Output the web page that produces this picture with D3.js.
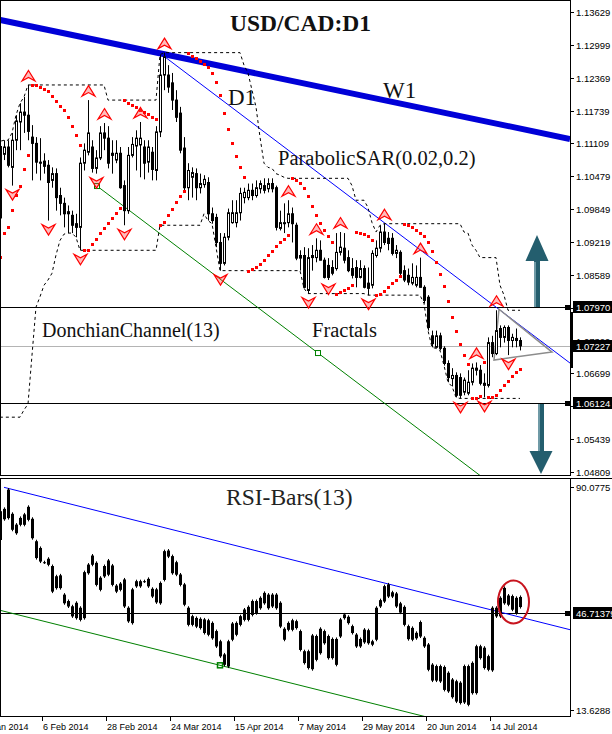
<!DOCTYPE html>
<html><head><meta charset="utf-8">
<script src="https://cdn.jsdelivr.net/npm/d3@7"></script>
<style>html,body{margin:0;padding:0;background:#fff;}svg{display:block;}</style>
</head><body>
<svg id="c" width="612" height="734"></svg>
<script>
// ---------- DATA ----------
// bars before the visible window (indices -20..-1), only partly visible, used by the indicators
const preOpen  = [1.0640,1.0612,1.0630,1.0655,1.0620,1.0605,1.0618,1.0640,1.0712,1.0800,1.0835,1.0860,1.0850,1.0885,1.0920,1.0945,1.0950,1.0965,1.0960,1.0968];
const preHigh  = [1.0668,1.0650,1.0668,1.0672,1.0640,1.0628,1.0650,1.0720,1.0790,1.0850,1.0880,1.0890,1.0900,1.0935,1.0960,1.0975,1.0990,1.0995,1.0985,1.1115];
const preLow   = [1.0600,1.0595,1.0610,1.0612,1.0592,1.0586,1.0600,1.0611,1.0705,1.0797,1.0817,1.0839,1.0849,1.0862,1.0897,1.0925,1.0937,1.0939,1.0942,1.0950];
const preClose = [1.0612,1.0630,1.0655,1.0620,1.0605,1.0618,1.0640,1.0712,1.0785,1.0835,1.0860,1.0850,1.0885,1.0920,1.0945,1.0950,1.0965,1.0960,1.0968,1.1105];

// visible daily bars 0..129 (23 Jan 2014 .. 23 Jul 2014)
const open = [1.1090,1.1104,1.1065,1.1117,1.1152,1.1171,1.1165,1.1123,1.1111,1.1075,
1.1077,1.1069,1.1040,1.1053,1.1011,1.0996,1.0980,1.0973,1.0957,1.0950,
1.1073,1.1094,1.1104,1.1063,1.1083,1.1131,1.1121,1.1092,1.1079,1.1092,
1.1030,1.0982,1.1088,1.1106,1.1108,1.1104,1.1075,1.1094,1.1059,1.1133,
1.1242,1.1242,1.1227,1.1194,1.1169,1.1102,1.1026,1.1046,1.1053,1.1026,
1.1032,1.1036,1.0976,1.0969,1.0921,1.0881,1.0931,1.0959,1.0959,1.0978,
1.1007,1.1007,1.1021,1.1011,1.1024,1.1030,1.1024,1.1034,1.1026,1.0948,
1.0957,1.0959,1.0976,1.0954,1.0891,1.0896,1.0829,1.0892,1.0892,1.0906,
1.0887,1.0877,1.0873,1.0871,1.0902,1.0910,1.0892,1.0871,1.0873,1.0854,
1.0871,1.0843,1.0839,1.0896,1.0910,1.0941,1.0929,1.0929,1.0900,1.0902,
1.0867,1.0858,1.0843,1.0839,1.0854,1.0835,1.0816,1.0742,1.0720,1.0742,
1.0718,1.0689,1.0660,1.0666,1.0662,1.0634,1.0632,1.0653,1.0676,1.0676,
1.0647,1.0647,1.0729,1.0708,1.0756,1.0739,1.0758,1.0733,1.0737,1.0733];
const high = [1.1117,1.1117,1.1131,1.1165,1.1188,1.1200,1.1223,1.1146,1.1123,1.1121,
1.1092,1.1079,1.1065,1.1063,1.1026,1.1007,1.0992,1.0982,1.0976,1.1084,
1.1111,1.1194,1.1117,1.1098,1.1144,1.1150,1.1144,1.1117,1.1117,1.1104,
1.1040,1.1104,1.1123,1.1136,1.1152,1.1117,1.1117,1.1104,1.1144,1.1281,
1.1285,1.1261,1.1246,1.1213,1.1181,1.1123,1.1073,1.1065,1.1063,1.1053,
1.1050,1.1046,1.0988,1.0976,1.0939,1.0939,1.0986,1.1002,1.1002,1.1026,
1.1026,1.1034,1.1034,1.1040,1.1040,1.1044,1.1044,1.1044,1.1030,1.0982,
1.0996,1.1002,1.0988,1.0959,1.0906,1.0912,1.0910,1.0916,1.0929,1.0925,
1.0892,1.0891,1.0887,1.0939,1.0941,1.0939,1.0906,1.0891,1.0887,1.0887,
1.0877,1.0873,1.0906,1.0925,1.0954,1.0957,1.0941,1.0939,1.0916,1.0906,
1.0877,1.0871,1.0881,1.0877,1.0892,1.0839,1.0820,1.0752,1.0752,1.0748,
1.0722,1.0695,1.0680,1.0672,1.0670,1.0662,1.0676,1.0689,1.0691,1.0686,
1.0670,1.0739,1.0742,1.0791,1.0762,1.0762,1.0762,1.0746,1.0756,1.0739];
const low = [1.1079,1.1065,1.1030,1.1098,1.1098,1.1131,1.1117,1.1040,1.1053,1.1040,
1.1053,1.0963,1.1026,1.0982,1.0973,1.0950,1.0939,1.0939,1.0931,1.0906,
1.1059,1.1088,1.1055,1.1053,1.1079,1.1098,1.1063,1.1053,1.1073,1.1024,
1.0954,1.0976,1.1084,1.1059,1.1046,1.1042,1.1055,1.1040,1.1040,1.1123,
1.1213,1.1208,1.1175,1.1152,1.1092,1.1021,1.1002,1.1007,1.1002,1.1015,
1.1026,1.0963,1.0957,1.0912,1.0867,1.0877,1.0925,1.0957,1.0950,1.0963,
1.0996,1.1002,1.1002,1.1007,1.1015,1.1015,1.1017,1.1017,1.0944,1.0944,
1.0939,1.0950,1.0921,1.0887,1.0867,1.0833,1.0823,1.0867,1.0883,1.0887,
1.0852,1.0849,1.0858,1.0867,1.0896,1.0881,1.0864,1.0852,1.0835,1.0852,
1.0833,1.0820,1.0833,1.0892,1.0902,1.0916,1.0906,1.0896,1.0891,1.0858,
1.0845,1.0839,1.0839,1.0835,1.0835,1.0804,1.0752,1.0720,1.0718,1.0714,
1.0685,1.0653,1.0645,1.0624,1.0622,1.0628,1.0628,1.0647,1.0666,1.0647,
1.0624,1.0643,1.0701,1.0705,1.0720,1.0729,1.0705,1.0720,1.0720,1.0714];
const close = [1.1104,1.1069,1.1117,1.1154,1.1171,1.1165,1.1134,1.1111,1.1075,1.1073,
1.1067,1.1036,1.1053,1.1007,1.0996,1.0976,1.0976,1.0954,1.0950,1.1073,
1.1098,1.1131,1.1063,1.1083,1.1131,1.1121,1.1073,1.1088,1.1092,1.1026,
1.0982,1.1088,1.1109,1.1121,1.1121,1.1073,1.1104,1.1061,1.1133,1.1242,
1.1277,1.1219,1.1194,1.1161,1.1098,1.1026,1.1059,1.1055,1.1026,1.1034,
1.1042,1.0976,1.0963,1.0921,1.0881,1.0931,1.0978,1.0978,1.0978,1.1015,
1.1017,1.1021,1.1011,1.1026,1.1034,1.1021,1.1034,1.1024,1.0950,1.0959,
1.0959,1.0976,1.0957,1.0891,1.0896,1.0835,1.0892,1.0896,1.0906,1.0887,
1.0854,1.0854,1.0862,1.0902,1.0912,1.0887,1.0867,1.0858,1.0854,1.0871,
1.0835,1.0833,1.0900,1.0910,1.0941,1.0921,1.0919,1.0900,1.0906,1.0862,
1.0849,1.0845,1.0854,1.0854,1.0835,1.0810,1.0758,1.0727,1.0742,1.0718,
1.0689,1.0662,1.0666,1.0628,1.0628,1.0657,1.0653,1.0680,1.0680,1.0651,
1.0651,1.0729,1.0708,1.0752,1.0739,1.0758,1.0733,1.0739,1.0733,1.07227];

// RSI-Bars(13): top and bottom of each bar, indices -1..129
const rsiHigh = [82.3,83.1,89.7,81.4,77.7,80.0,81.2,83.8,79.7,72.0,69.7,
64.8,66.0,63.5,60.0,60.3,53.7,51.5,49.7,50.9,49.2,
61.4,64.0,67.1,64.6,59.5,63.5,65.4,63.7,56.8,57.5,
58.9,49.2,55.5,58.3,58.3,58.3,59.1,55.7,55.5,57.7,
68.6,68.8,66.9,64.8,60.6,57.2,49.2,46.3,45.7,45.4,
45.2,44.9,44.0,41.2,37.7,33.2,37.7,43.8,44.0,46.3,
48.6,49.5,51.5,51.5,52.6,54.3,53.7,53.7,53.7,50.9,
42.0,44.0,44.9,44.6,41.2,34.3,34.3,39.7,39.5,42.0,
41.2,39.5,38.5,38.5,45.2,46.9,46.1,42.9,40.0,38.5,
41.7,41.5,37.7,49.2,51.8,56.6,57.2,54.5,54.1,50.7,
49.5,42.9,42.3,40.6,44.3,38.9,36.6,29.7,29.2,29.2,
28.9,26.9,24.6,24.0,23.5,29.2,29.2,30.3,36.0,36.0,
35.5,32.6,49.2,49.2,52.6,56.0,53.4,53.2,52.6,52.9];
const rsiLow = [71.4,78.5,78.9,74.9,73.7,76.6,76.6,78.3,72.0,65.2,64.0,
63.7,62.9,53.7,54.9,54.9,49.7,48.6,45.2,44.6,44.0,
44.6,60.0,62.9,56.0,54.3,58.9,59.5,56.0,53.7,54.3,
48.6,43.5,42.9,55.5,55.5,57.2,55.5,52.0,50.0,49.7,
57.7,65.7,60.0,59.5,56.0,49.2,42.3,42.3,41.7,41.2,
39.5,38.9,37.7,34.9,31.5,28.6,28.0,37.2,38.9,42.3,
44.0,44.0,45.7,46.3,48.0,49.7,48.0,48.6,48.0,41.7,
37.2,40.6,40.6,41.2,33.7,29.2,27.5,27.1,30.3,32.6,
36.0,30.9,30.9,28.6,38.3,44.6,42.9,39.5,34.9,34.9,
36.3,36.0,35.5,37.2,48.6,50.3,52.0,52.0,48.6,46.5,
42.3,37.4,37.2,37.7,38.3,34.9,26.9,23.2,23.2,22.9,
20.0,19.5,17.5,16.0,15.5,15.7,14.9,18.9,18.9,30.9,
27.5,26.9,26.7,45.2,45.2,49.7,49.2,47.5,46.3,48.4];
const rsiFirstIndex = -1;

// axis ticks and labels
const priceTicks = [1.13629,1.12999,1.12369,1.11739,1.11109,1.10479,1.09849,1.09219,1.08589,1.07959,1.07329,1.06699,1.06069,1.05439,1.04809];
const priceLevels = [1.07970, 1.06124];
const currentPrice = 1.07227;
const rsiTicks = [90.0775, 13.6288];
const rsiLevel = 46.71379;
const dateTickIndex = [-6,10,26,42,58,74,90,106,122];
const dateTickLabels = ["15 Jan 2014","6 Feb 2014","28 Feb 2014","24 Mar 2014","15 Apr 2014","7 May 2014","29 May 2014","20 Jun 2014","14 Jul 2014"];

// trend lines: [barIndex, value] anchor pairs
const w1Line = [[-1, 1.13476],[141.5, 1.11194]];
const d1Upper = [[40.25, 1.12766],[141.5, 1.06898]];
const d1Lower = [[23.25, 1.10292],[78.5, 1.07090]];
const triangle = [[123.75, 1.0793],[122.5, 1.06956],[137, 1.07109]];
const rsiUpper = [[0, 89.97],[141.5, 41.16]];
const rsiLower = [[-1, 47.81],[54, 28.95]];
const donchianPeriod = 20;
const sarStep = 0.02, sarMax = 0.2;

// ---------- SCALES ----------
const svg = d3.select("#c");
const x = d3.scaleLinear().domain([0,129]).range([4,520]);
const y = d3.scaleLinear().domain([1.04809,1.13629]).range([472,12]);
const yr = d3.scaleLinear().domain([13.6288,90.0775]).range([710,487]);
const serif = "'Liberation Serif','Times New Roman',serif";
const sans = "'Liberation Sans',Arial,sans-serif";

const defs = svg.append("defs");
defs.append("clipPath").attr("id","cp").append("rect").attr("x",1).attr("y",1).attr("width",569).attr("height",474);
defs.append("clipPath").attr("id","cr").append("rect").attr("x",1).attr("y",479).attr("width",569).attr("height",237);

const O = preOpen.concat(open), H = preHigh.concat(high), L = preLow.concat(low), C = preClose.concat(close);
const off = preOpen.length;
const idx = d3.range(-off, open.length);

// ---------- PRICE PANEL ----------
const gp = svg.append("g").attr("clip-path","url(#cp)");
function extend(a, b, i0, i1, ys){ // line through anchors a,b evaluated at i0,i1
  const s = (b[1]-a[1])/(b[0]-a[0]);
  return [[x(i0), ys(a[1]+s*(i0-a[0]))],[x(i1), ys(a[1]+s*(i1-a[0]))]];
}
// W1 thick line
gp.append("path").attr("d", d3.line()(extend(w1Line[0],w1Line[1],-2,141.5,y)))
  .attr("stroke","#0000d8").attr("stroke-width",6).attr("fill","none");
// horizontal levels
priceLevels.forEach(v=>{
  gp.append("line").attr("x1",0).attr("x2",570).attr("y1",Math.round(y(v))+0.5).attr("y2",Math.round(y(v))+0.5).attr("stroke","#000");
});
gp.append("line").attr("x1",0).attr("x2",570).attr("y1",Math.round(y(currentPrice))+0.5).attr("y2",Math.round(y(currentPrice))+0.5).attr("stroke","#b4b4b4");
// D1 channel lines
gp.append("path").attr("d", d3.line()(extend(d1Upper[0],d1Upper[1],d1Upper[0][0],141.5,y)))
  .attr("stroke","#0000ff").attr("stroke-width",1).attr("fill","none");
gp.append("path").attr("d", d3.line()(extend(d1Lower[0],d1Lower[1],d1Lower[0][0],150,y)))
  .attr("stroke","#008000").attr("stroke-width",1).attr("fill","none");
[d1Lower[0], d1Lower[1]].forEach(p=>{
  gp.append("rect").attr("x",x(p[0])-2.5).attr("y",y(p[1])-2.5).attr("width",5).attr("height",5)
    .attr("fill","#fff").attr("stroke","#008000");
});
// Donchian channel
const upper = idx.map((i,k)=>d3.max(H.slice(Math.max(0,k-donchianPeriod+1),k+1)));
const lower = idx.map((i,k)=>d3.min(L.slice(Math.max(0,k-donchianPeriod+1),k+1)));
const dl = d3.line().x((d,k)=>x(idx[k])).y(d=>y(d));
gp.append("path").attr("d",dl(upper)).attr("stroke","#000").attr("stroke-dasharray","3,3").attr("fill","none");
gp.append("path").attr("d",dl(lower)).attr("stroke","#000").attr("stroke-dasharray","3,3").attr("fill","none");
// triangle
gp.append("path").attr("d", d3.line()(triangle.map(p=>[x(p[0]),y(p[1])]))+"Z")
  .attr("stroke","#8c8c8c").attr("stroke-width",1.5).attr("fill","none");
// candles
idx.forEach((i,k)=>{
  const cx = Math.round(x(i));
  gp.append("line").attr("x1",cx+0.5).attr("x2",cx+0.5).attr("y1",y(H[k])).attr("y2",y(L[k])).attr("stroke","#000");
  const top = y(Math.max(O[k],C[k])), bot = y(Math.min(O[k],C[k]));
  gp.append("rect").attr("x",cx-0.5).attr("y",top).attr("width",2).attr("height",Math.max(1,bot-top))
    .attr("fill", C[k]>=O[k] ? "#fff" : "#000").attr("stroke","#000");
});
// Parabolic SAR
function computeSAR(h,l){
  const out=[]; let up=true, af=sarStep, ep=h[0], sar=l[0]; out.push(sar);
  for(let i=1;i<h.length;i++){
    let s = sar + af*(ep-sar);
    if(up){
      s = Math.min(s, l[i-1], l[Math.max(0,i-2)]);
      if(l[i] < s){ up=false; s=ep; ep=l[i]; af=sarStep; }
      else if(h[i] > ep){ ep=h[i]; af=Math.min(af+sarStep,sarMax); }
    } else {
      s = Math.max(s, h[i-1], h[Math.max(0,i-2)]);
      if(h[i] > s){ up=true; s=ep; ep=h[i]; af=sarStep; }
      else if(l[i] < ep){ ep=l[i]; af=Math.min(af+sarStep,sarMax); }
    }
    sar=s; out.push(s);
  }
  return out;
}
const sar = computeSAR(H,L);
idx.forEach((i,k)=>{
  if(k<4) return;
  gp.append("rect").attr("x",Math.round(x(i))-1).attr("y",Math.round(y(sar[k]))-1).attr("width",3).attr("height",3).attr("fill","#ff0000");
});
// Fractals
const upShape = "M0,-5.5L6.5,5L0,1.5L-6.5,5Z";
const dnShape = "M0,5.5L6.5,-5L0,-1.5L-6.5,-5Z";
for(let k=2;k<H.length-2;k++){
  const i = idx[k], cx = x(i);
  if(H[k]>H[k-1] && H[k]>H[k-2] && H[k]>H[k+1] && H[k]>H[k+2]){
    gp.append("path").attr("d",upShape).attr("transform",`translate(${cx+0.5},${y(H[k])-9})`)
      .attr("fill","#ff4040").attr("fill-opacity",0.35).attr("stroke","#f00").attr("stroke-width",1.2);
  }
  if(L[k]<L[k-1] && L[k]<L[k-2] && L[k]<L[k+1] && L[k]<L[k+2]){
    gp.append("path").attr("d",dnShape).attr("transform",`translate(${cx+0.5},${y(L[k])+9})`)
      .attr("fill","#ff4040").attr("fill-opacity",0.35).attr("stroke","#f00").attr("stroke-width",1.2);
  }
}
// teal arrows
const teal = "#245e6e";
gp.append("path").attr("d","M537,235 L548.5,261 L540,261 L540,307 L534,307 L534,261 L525.5,261 Z").attr("fill",teal);
gp.append("path").attr("d","M541,474 L552.5,451 L544,451 L544,404 L538,404 L538,451 L529.5,451 Z").attr("fill",teal);
gp.append("rect").attr("x",534).attr("y",262).attr("width",2).attr("height",45).attr("fill","#6f9aa6");
gp.append("rect").attr("x",538).attr("y",404).attr("width",2).attr("height",47).attr("fill","#6f9aa6");
// level end squares
priceLevels.forEach(v=>{
  svg.append("rect").attr("x",565).attr("y",Math.round(y(v))-2).attr("width",5).attr("height",5).attr("fill","#000");
});
// labels
gp.append("text").attr("x",230).attr("y",31).attr("font-family",serif).attr("font-weight","bold").attr("font-size",23.5).attr("fill","#111").text("USD/CAD:D1");
gp.append("text").attr("x",228).attr("y",105).attr("font-family",serif).attr("font-size",23).attr("fill","#111").text("D1");
gp.append("text").attr("x",383).attr("y",98).attr("font-family",serif).attr("font-size",23).attr("fill","#111").text("W1");
gp.append("text").attr("x",278).attr("y",165).attr("font-family",serif).attr("font-size",20.5).attr("fill","#111").text("ParabolicSAR(0.02,0.2)");
gp.append("text").attr("x",42).attr("y",337).attr("font-family",serif).attr("font-size",20).attr("fill","#111").text("DonchianChannel(13)");
gp.append("text").attr("x",312).attr("y",337).attr("font-family",serif).attr("font-size",20.5).attr("fill","#111").text("Fractals");

// ---------- RSI PANEL ----------
const gr = svg.append("g").attr("clip-path","url(#cr)");
gr.append("line").attr("x1",0).attr("x2",570).attr("y1",Math.round(yr(rsiLevel))+0.5).attr("y2",Math.round(yr(rsiLevel))+0.5).attr("stroke","#000");
gr.append("path").attr("d", d3.line()(extend(rsiUpper[0],rsiUpper[1],rsiUpper[0][0],141.5,yr)))
  .attr("stroke","#0000ff").attr("fill","none");
gr.append("path").attr("d", d3.line()(extend(rsiLower[0],rsiLower[1],-1,150,yr)))
  .attr("stroke","#008000").attr("fill","none");
rsiHigh.forEach((hv,k)=>{
  const j = k + rsiFirstIndex, cx = Math.round(x(j));
  const t = yr(hv), b = yr(rsiLow[k]);
  gr.append("line").attr("x1",cx+0.5).attr("x2",cx+0.5).attr("y1",t).attr("y2",b).attr("stroke","#000");
  gr.append("rect").attr("x",cx-1).attr("y",t+1.5).attr("width",3).attr("height",Math.max(1,b-t-3)).attr("fill","#000");
});
gr.append("rect").attr("x",x(rsiLower[1][0])-2.5).attr("y",yr(rsiLower[1][1])-2.5).attr("width",5).attr("height",5)
  .attr("fill","none").attr("stroke","#008000").attr("stroke-width",1.5);
gr.append("ellipse").attr("cx",513.5).attr("cy",602).attr("rx",15.5).attr("ry",21.5)
  .attr("fill","none").attr("stroke","#c8141e").attr("stroke-width",2);
gr.append("text").attr("x",226).attr("y",505).attr("font-family",serif).attr("font-size",23.5).attr("fill","#222").text("RSI-Bars(13)");
svg.append("rect").attr("x",565).attr("y",Math.round(yr(rsiLevel))-2).attr("width",5).attr("height",5).attr("fill","#000");

// ---------- FRAMES ----------
const fr = svg.append("g").attr("stroke","#000").attr("fill","none");
fr.append("line").attr("x1",0).attr("x2",571).attr("y1",0.5).attr("y2",0.5);
fr.append("line").attr("x1",0.5).attr("x2",0.5).attr("y1",0).attr("y2",476);
fr.append("line").attr("x1",0).attr("x2",571).attr("y1",475.5).attr("y2",475.5);
fr.append("line").attr("x1",0).attr("x2",612).attr("y1",478.5).attr("y2",478.5);
fr.append("line").attr("x1",0.5).attr("x2",0.5).attr("y1",478).attr("y2",717);
fr.append("line").attr("x1",0).attr("x2",571).attr("y1",716.5).attr("y2",716.5);
fr.append("line").attr("x1",570.5).attr("x2",570.5).attr("y1",0).attr("y2",476);
fr.append("line").attr("x1",570.5).attr("x2",570.5).attr("y1",478).attr("y2",717);
svg.append("rect").attr("x",570).attr("y",312).attr("width",3).attr("height",56).attr("fill","#000");

// ---------- AXES ----------
const ax = svg.append("g").attr("font-family",sans).attr("font-size",9.5).attr("fill","#000");
const badgeValues = priceLevels.concat([currentPrice]);
priceTicks.forEach(v=>{
  const yy = Math.round(y(v));
  ax.append("line").attr("x1",571).attr("x2",574).attr("y1",yy+0.5).attr("y2",yy+0.5).attr("stroke","#000");
  // labels fully hidden behind a highlighted level badge are not drawn
  if(badgeValues.some(b=>Math.abs(y(b)-yy)<3.5)) return;
  ax.append("text").attr("x",576).attr("y",yy+3.5).text(v.toFixed(5));
});
rsiTicks.forEach(v=>{
  const yy = Math.round(yr(v));
  ax.append("line").attr("x1",571).attr("x2",574).attr("y1",yy+0.5).attr("y2",yy+0.5).attr("stroke","#000");
  ax.append("text").attr("x",576).attr("y",yy+3.5).text(v.toFixed(4));
});
function badge(v, sc, txt){
  const yy = Math.round(sc(v));
  ax.append("rect").attr("x",573).attr("y",yy-6).attr("width",39).attr("height",12).attr("fill","#000");
  ax.append("text").attr("x",576).attr("y",yy+3.5).attr("fill","#fff").text(txt);
}
priceLevels.forEach(v=>badge(v,y,v.toFixed(5)));
badge(currentPrice,y,currentPrice.toFixed(5));
badge(rsiLevel,yr,rsiLevel.toFixed(5));
// date axis
dateTickIndex.forEach((i,k)=>{
  const xx = Math.round(x(i))-2;
  ax.append("line").attr("x1",xx+0.5).attr("x2",xx+0.5).attr("y1",717).attr("y2",721).attr("stroke","#000");
  ax.append("text").attr("x",xx+1).attr("y",730).attr("font-size",9).text(dateTickLabels[k]);
});
</script>
</body></html>
